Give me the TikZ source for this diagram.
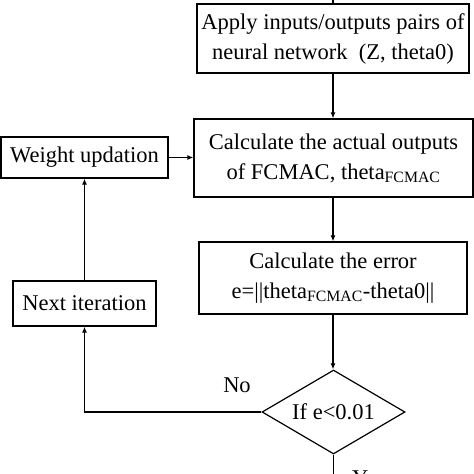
\documentclass[tikz,border=0pt]{standalone}
\usepackage{fontspec}
\setmainfont{Liberation Serif}
\usetikzlibrary{shapes.geometric,arrows.meta}
\begin{document}
\begin{tikzpicture}[x=1pt,y=-1pt,
  box/.style={draw,line width=1.2pt,rectangle,inner sep=0pt,align=center,font=\fontsize{22.5}{30}\selectfont},
  dec/.style={draw,line width=1.2pt,diamond,inner sep=0pt,aspect=1.7,font=\fontsize{22.5}{30}\selectfont},
  lab/.style={inner sep=0pt,font=\fontsize{22.5}{30}\selectfont},
  flow/.style={line width=1.2pt,-{Latex[length=6pt,width=5pt]}},
  plain/.style={line width=1.2pt}]
\useasboundingbox (0,0) rectangle (474,474);
\clip (0,0) rectangle (474,474);
\node[box,minimum width=272pt,minimum height=69pt] (apply) at (333,38.5) {Apply inputs/outputs pairs of\\neural network~~(Z, theta0)};
\node[box,minimum width=279pt,minimum height=78pt] (calc) at (333.5,158) {Calculate the actual outputs\\of FCMAC, theta\textsubscript{FCMAC}};
\node[box,minimum width=167pt,minimum height=41pt] (weight) at (84.5,157.5) {Weight updation};
\node[box,minimum width=268pt,minimum height=72pt] (err) at (333,278) {Calculate the error\\e=||theta\textsubscript{FCMAC}-theta0||};
\node[box,minimum width=143pt,minimum height=45pt] (next) at (84.5,303.5) {Next iteration};
\node[dec,minimum width=143pt,minimum height=84pt] (dec) at (333.5,412) {If e<0.01};
\coordinate (topin) at (333,0);
\coordinate (botout) at (333.5,480);
\coordinate (corner) at (84.5,412);
\node[lab,anchor=base] (no) at (237,392) {No};
\node[lab,anchor=base west] (yes) at (352,485) {Yes};
\draw[plain] (topin) -- (apply.north);
\draw[flow] (apply.south) -- (apply.south |- calc.north);
\draw[flow] (weight.east) -- (weight.east -| calc.west);
\draw[flow] (calc.south -| err.north) -- (err.north);
\draw[flow] (err.south) -- (err.south |- dec.north);
\draw[flow] (dec.west) -- (corner) -- (next.south);
\draw[flow] (next.north) -- (weight.south);
\draw[plain] (dec.south) -- (botout);
\end{tikzpicture}
\end{document}
